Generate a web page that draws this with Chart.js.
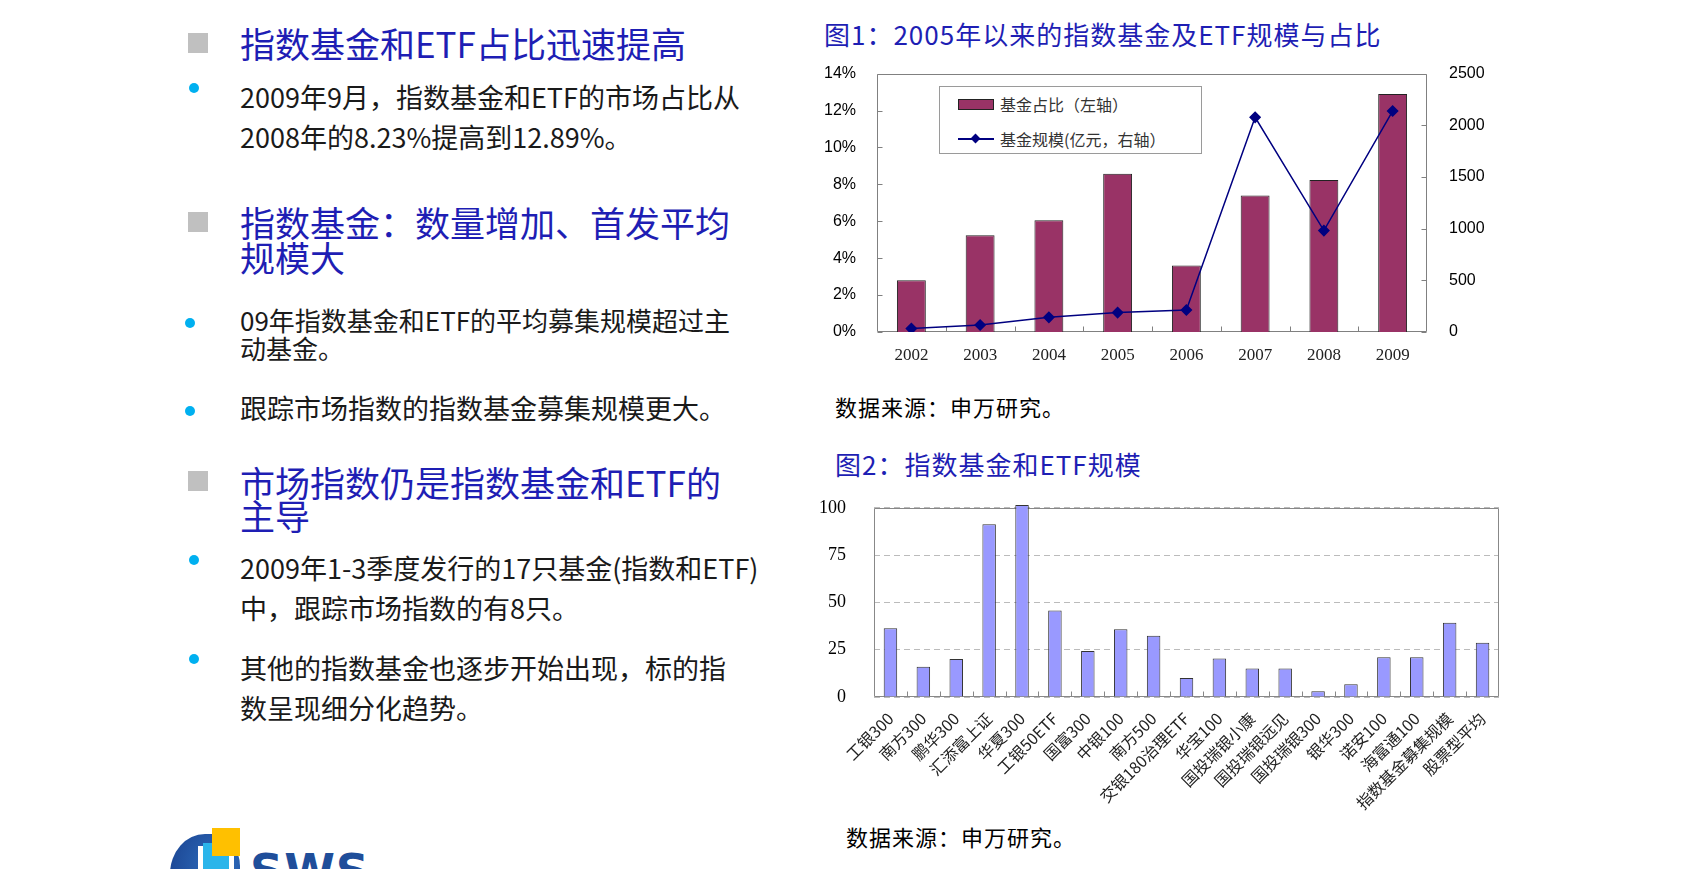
<!DOCTYPE html>
<html><head><meta charset="utf-8">
<script src="https://cdn.jsdelivr.net/npm/chart.js@4.4.1/dist/chart.umd.min.js"></script>
<style>
html,body{margin:0;padding:0;background:#fff;}
body{width:1684px;height:869px;position:relative;overflow:hidden;font-family:"Noto Sans CJK SC","Noto Sans",sans-serif;}
.ab{position:absolute;white-space:nowrap;}
.h{color:#1e1eb4;font-size:35px;line-height:40px;height:40px;left:240px;}
.b{color:#1a1a1a;font-size:27px;line-height:40px;height:40px;left:240px;}
.sq{width:20px;height:20px;background:#c0c0c0;left:188px;}
.dot{width:10px;height:10px;border-radius:50%;background:#00b0f0;}
.ttl{color:#1e1eb4;font-size:26px;letter-spacing:1px;line-height:36px;}
.src{color:#000;font-size:22px;font-weight:400;letter-spacing:1px;line-height:30px;}
.cw{position:absolute;}
.lg{font-size:16px;color:#333;line-height:20px;}
</style></head><body>

<!-- left text -->
<div class="ab sq" style="top:33px"></div>
<div class="ab h" style="top:23px">指数基金和ETF占比迅速提高</div>
<div class="ab dot" style="left:189px;top:83px"></div>
<div class="ab b" style="top:77px">2009年9月，指数基金和ETF的市场占比从</div>
<div class="ab b" style="top:117px">2008年的8.23%提高到12.89%。</div>

<div class="ab sq" style="top:212px"></div>
<div class="ab h" style="top:202px">指数基金：数量增加、首发平均</div>
<div class="ab h" style="top:237px">规模大</div>
<div class="ab dot" style="left:185px;top:318px"></div>
<div class="ab b" style="top:300px;font-size:26px">09年指数基金和ETF的平均募集规模超过主</div>
<div class="ab b" style="top:328px;font-size:26px">动基金。</div>
<div class="ab dot" style="left:185px;top:406px"></div>
<div class="ab b" style="top:388px">跟踪市场指数的指数基金募集规模更大。</div>

<div class="ab sq" style="top:471px"></div>
<div class="ab h" style="top:462px">市场指数仍是指数基金和ETF的</div>
<div class="ab h" style="top:495px">主导</div>
<div class="ab dot" style="left:189px;top:555px"></div>
<div class="ab b" style="top:548px">2009年1-3季度发行的17只基金(指数和ETF)</div>
<div class="ab b" style="top:588px">中，跟踪市场指数的有8只。</div>
<div class="ab dot" style="left:189px;top:654px"></div>
<div class="ab b" style="top:648px">其他的指数基金也逐步开始出现，标的指</div>
<div class="ab b" style="top:688px">数呈现细分化趋势。</div>

<!-- logo -->
<div class="ab" style="left:170px;top:834px;width:70px;height:80px;border-radius:50% 40% 0 0;background:radial-gradient(circle at 70% 40%,#2f6fc0,#163a86);"></div>
<div class="ab" style="left:198px;top:846px;width:36px;height:30px;background:#ffffff;"></div>
<div class="ab" style="left:203px;top:843px;width:26px;height:30px;background:#2bb5ea;"></div>
<div class="ab" style="left:212px;top:828px;width:28px;height:28px;background:#ffc000;"></div>
<div class="ab" style="left:250px;top:846px;font-family:'DejaVu Sans';font-weight:bold;font-size:46px;line-height:50px;color:#1f4e9a;letter-spacing:1px;">SWS</div>

<!-- chart 1 -->
<div class="ab ttl" style="left:824px;top:16px">图1：2005年以来的指数基金及ETF规模与占比</div>
<div class="cw" style="left:800px;top:50px;width:700px;height:320px"><canvas id="c1"></canvas></div>
<div class="ab" style="left:939px;top:86px;width:261px;height:66px;border:1px solid #9a9a9a;background:#fff;"></div>
<div class="ab" style="left:958px;top:99px;width:34px;height:9px;background:#993366;border:1px solid #222;"></div>
<div class="ab lg" style="left:1000px;top:94px">基金占比（左轴）</div>
<div class="ab" style="left:958px;top:138px;width:36px;height:2px;background:#000080;"></div>
<div class="ab" style="left:972px;top:135px;width:7px;height:7px;background:#000080;transform:rotate(45deg);"></div>
<div class="ab lg" style="left:1000px;top:129px">基金规模(亿元，右轴）</div>
<div class="ab src" style="left:835px;top:391px">数据来源：申万研究。</div>

<!-- chart 2 -->
<div class="ab ttl" style="left:835px;top:446px">图2：指数基金和ETF规模</div>
<div class="cw" style="left:800px;top:469px;width:720px;height:351px"><canvas id="c2"></canvas></div>
<div class="ab src" style="left:846px;top:821px">数据来源：申万研究。</div>

<script>
// ---- data ----
const years = ['2002','2003','2004','2005','2006','2007','2008','2009'];
const fundShare = [2.8, 5.24, 6.05, 8.58, 3.6, 7.4, 8.23, 12.89];      // %
const fundScale = [33, 68, 142, 188, 213, 2077, 981, 2138];             // 亿元
const shareTicksMax = 14;
const scaleTicksMax = 2500;

const funds = ['工银300','南方300','鹏华300','汇添富上证','华夏300','工银50ETF','国富300','中银100','南方500','交银180治理ETF','华宝100','国投瑞银小康','国投瑞银远见','国投瑞银300','银华300','诺安100','海富通100','指数基金募集规模','股票型平均'];
const fundSize = [36.3, 16.0, 20.1, 91.3, 101.5, 45.7, 24.3, 35.8, 32.4, 10.0, 20.4, 15.0, 15.0, 3.0, 6.7, 21.0, 21.0, 39.2, 28.7];
const sizeTicksMax = 100;

// ---- frame + inward ticks plugin ----
const framePlugin = {
  id: 'frame',
  beforeDatasetsDraw(chart, args, o) {
    const ctx = chart.ctx, a = chart.chartArea;
    ctx.save();
    ctx.strokeStyle = o.color; ctx.lineWidth = 1;
    const L = Math.round(a.left)+0.5, R = Math.round(a.right)-0.5, T = Math.round(a.top)+0.5, B = Math.round(a.bottom)-0.5;
    ctx.beginPath();
    ctx.rect(L, T, R-L, B-T);
    (o.ticksFor||[]).forEach(id => {
      const s = chart.scales[id];
      const len = o.tickLen;
      if (s.axis === 'x') {
        const n = s.ticks.length;
        for (let i = 1; i < n; i++) {
          const x = Math.round((s.getPixelForTick(i-1) + s.getPixelForTick(i)) / 2) + 0.5;
          ctx.moveTo(x, B); ctx.lineTo(x, B - len);
        }
      } else {
        s.ticks.forEach((t, i) => {
          const y = Math.round(s.getPixelForTick(i)) + 0.5;
          if (s.position === 'left') { ctx.moveTo(L, y); ctx.lineTo(L + len, y); }
          else { ctx.moveTo(R, y); ctx.lineTo(R - len, y); }
        });
      }
    });
    ctx.stroke();
    ctx.restore();
  }
};

// ---- chart 1 ----
new Chart(document.getElementById('c1'), {
  data: {
    labels: years,
    datasets: [
      { type: 'line', label: '基金规模(亿元，右轴）', data: fundScale, yAxisID: 'y1', order: 0,
        borderColor: '#000080', backgroundColor: '#000080', borderWidth: 1.5, tension: 0,
        pointStyle: 'rectRot', pointRadius: 5, pointHoverRadius: 5 },
      { type: 'bar', label: '基金占比（左轴）', data: fundShare, yAxisID: 'y', order: 1,
        backgroundColor: '#993366', borderColor: '#222222', borderWidth: 1,
        categoryPercentage: 1, barPercentage: 0.42 }
    ]
  },
  options: {
    responsive: true, maintainAspectRatio: false, animation: false,
    layout: { padding: { top: 3, left: 0, right: 0, bottom: 0 } },
    plugins: { legend: { display: false }, tooltip: { enabled: false },
      frame: { color: '#808080', tickLen: 5, ticksFor: ['x','y','y1'] } },
    scales: {
      x: { grid: { display: false }, border: { display: false },
        ticks: { color: '#222', padding: 5, font: { family: 'Liberation Serif', size: 17 } },
        afterFit(s) { s.height = 38; } },
      y: { position: 'left', min: 0, max: shareTicksMax, grid: { display: false }, border: { display: false },
        ticks: { stepSize: 2, padding: 13, color: '#000', font: { family: 'Liberation Sans', size: 16 }, callback: v => v + '%' },
        afterFit(s) { s.width = 77; } },
      y1: { position: 'right', min: 0, max: scaleTicksMax, grid: { display: false }, border: { display: false },
        ticks: { stepSize: 500, padding: 14, color: '#000', font: { family: 'Liberation Sans', size: 16 }, callback: v => String(v) },
        afterFit(s) { s.width = 73; } }
    }
  },
  plugins: [framePlugin]
});

// ---- chart 2 ----
new Chart(document.getElementById('c2'), {
  type: 'bar',
  data: {
    labels: funds,
    datasets: [{ label: '规模', data: fundSize, backgroundColor: '#9999ff', borderColor: '#333333', borderWidth: 1,
      categoryPercentage: 1, barPercentage: 0.41, clip: false }]
  },
  options: {
    responsive: true, maintainAspectRatio: false, animation: false,
    layout: { padding: { top: 16, left: 0, right: 21, bottom: 0 } },
    plugins: { legend: { display: false }, tooltip: { enabled: false },
      frame: { color: '#888888', tickLen: 5, ticksFor: ['x'] } },
    scales: {
      x: { grid: { display: false }, border: { display: false },
        ticks: { autoSkip: false, minRotation: 45, maxRotation: 45, padding: 4, color: '#222',
          font: { family: 'Noto Sans CJK SC', size: 16 } },
        afterFit(s) { s.height = 123; } },
      y: { min: 0, max: sizeTicksMax, border: { display: false, dash: [6, 4] },
        grid: { color: '#bbbbbb', drawTicks: false, lineWidth: 1 },
        ticks: { stepSize: 25, padding: 28, color: '#000', font: { family: 'Liberation Serif', size: 18 } },
        afterFit(s) { s.width = 74; } }
    }
  },
  plugins: [framePlugin]
});
</script>
</body></html>
